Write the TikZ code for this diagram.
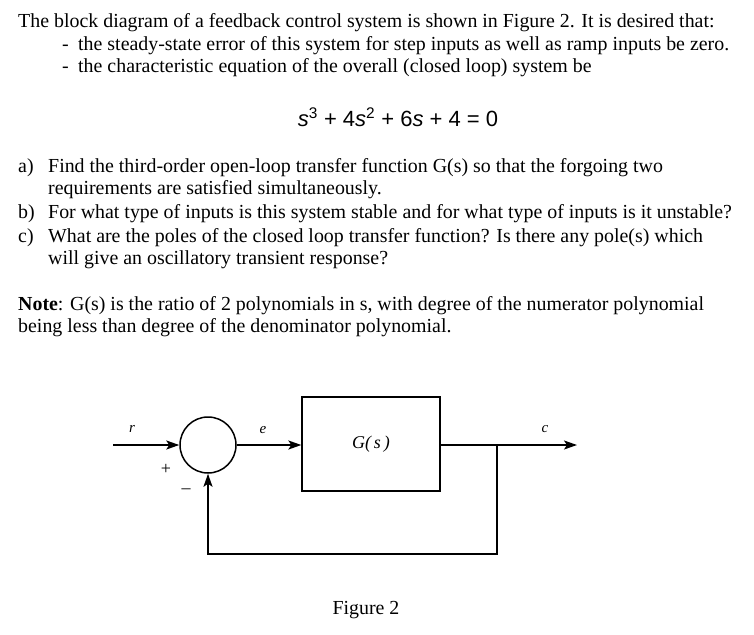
\documentclass[tikz,border=0pt]{standalone}
\usepackage{fontspec}
\setmainfont{Liberation Serif}
\newfontfamily\eqfont{Liberation Sans}
\usetikzlibrary{arrows.meta}
\begin{document}
\begin{tikzpicture}[x=1pt,y=-1pt,
  txt/.style={anchor=base west,inner sep=0pt,font=\fontsize{19.9}{22}\selectfont},
  wire/.style={line width=1.8pt},
  arr/.style={wire,-{Stealth[length=13pt,width=9pt,inset=3pt]}},
  lbl/.style={font=\itshape\fontsize{15}{17}\selectfont,inner sep=0pt}]
\useasboundingbox (0,0) rectangle (754,634);
\node[txt] (t1) at (18,28) {The block diagram of a feedback control system is shown in Figure 2. It is desired that:};
\node[txt] (d1) at (62,50) {-};
\node[txt] (t2) at (78,50) {the steady-state error of this system for step inputs as well as ramp inputs be zero.};
\node[txt] (d2) at (62,72) {-};
\node[txt] (t3) at (78,72) {the characteristic equation of the overall (closed loop) system be};
\node[inner sep=0pt,font=\eqfont\fontsize{22}{25}\selectfont] (eq) at (398,117) {\textit{s}\textsuperscript{3} + 4\textit{s}\textsuperscript{2} + 6\textit{s} + 4 = 0};
\node[txt] (a) at (18,172) {a)};
\node[txt] (ta) at (48,172) {Find the third-order open-loop transfer function G(s) so that the forgoing two};
\node[txt] (ta2) at (48,194) {requirements are satisfied simultaneously.};
\node[txt] (b) at (18,218) {b)};
\node[txt] (tb) at (48,218) {For what type of inputs is this system stable and for what type of inputs is it unstable?};
\node[txt] (c) at (18,242) {c)};
\node[txt] (tc) at (48,242) {What are the poles of the closed loop transfer function? Is there any pole(s) which};
\node[txt] (tc2) at (48,264) {will give an oscillatory transient response?};
\node[txt] (n1) at (18,310) {\textbf{Note}: G(s) is the ratio of 2 polynomials in s, with degree of the numerator polynomial};
\node[txt] (n2) at (18,332) {being less than degree of the denominator polynomial.};
% diagram
\coordinate (in) at (113,445);
\node[circle,draw,line width=1.5pt,minimum size=56pt,inner sep=0pt] (sum) at (208,445) {};
\node[draw,line width=1.3pt,minimum width=138pt,minimum height=94pt,inner sep=0pt,font=\itshape\fontsize{18}{20}\selectfont] (G) at (371,444) {G(\,s\,)};
\coordinate (br) at (497,445);
\coordinate (out) at (577,445);
\coordinate (bl) at (497,554);
\coordinate (bs) at (208,554);
\draw[arr] (in) -- (sum.west);
\draw[arr] (sum.east) -- (G.west|-sum);
\draw[wire] (G.east|-sum) -- (br);
\draw[arr] (br) -- (out);
\draw[arr] (br) -- (bl) -- (bs) -- (sum.south);
\node[lbl] (lr) at (132,429) {r};
\node[lbl] (le) at (263,430) {e};
\node[lbl] (lc) at (545,429) {c};
\node[inner sep=0pt,font=\fontsize{18}{20}\selectfont] (lp) at (166,469) {+};
\node[inner sep=0pt,font=\fontsize{18}{20}\selectfont] (lm) at (186,491) {--};
\node[inner sep=0pt,font=\fontsize{19.9}{22}\selectfont] (fig) at (366,610) {Figure 2};
\end{tikzpicture}
\end{document}
